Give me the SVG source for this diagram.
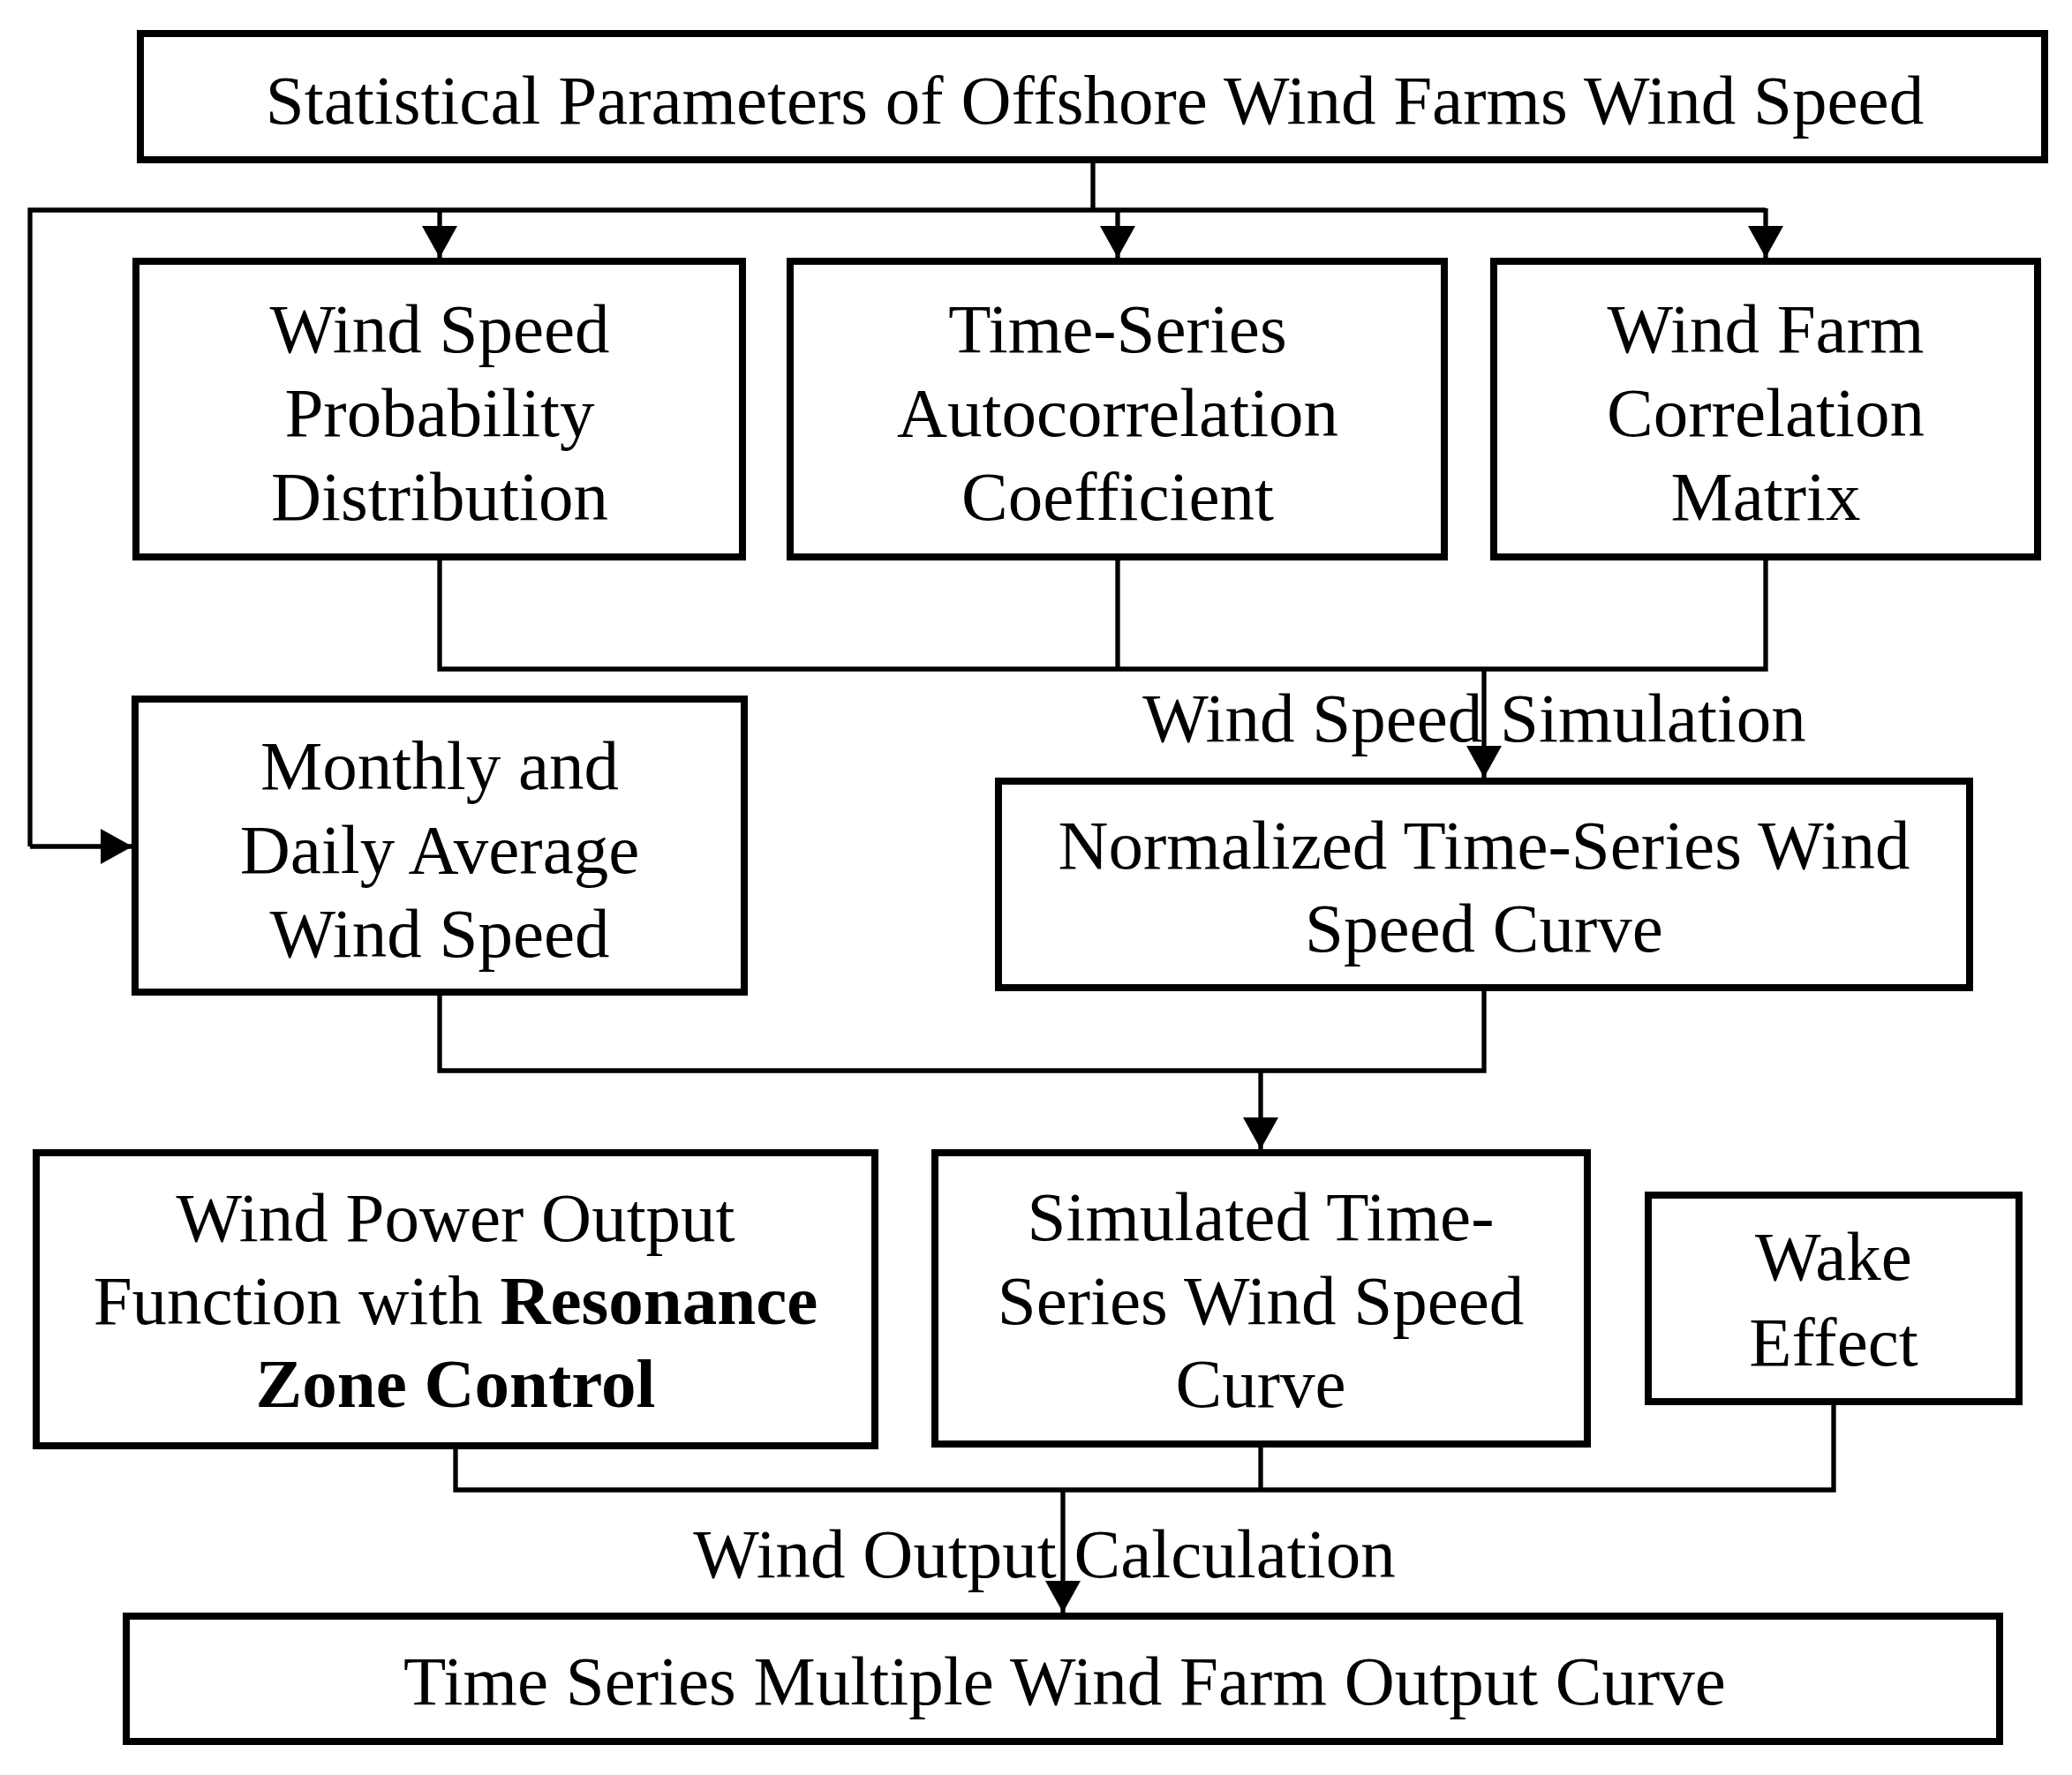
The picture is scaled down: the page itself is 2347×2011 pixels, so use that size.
<svg xmlns="http://www.w3.org/2000/svg" width="2347" height="2011" viewBox="0 0 2347 2011">
<defs>
<style>
.box{fill:#fff;stroke:#000;stroke-width:8}
.t{font-family:"Liberation Serif","Times New Roman",serif;font-size:79px;fill:#000;text-anchor:middle}
.b{font-weight:bold}
.c{fill:none;stroke:#000;stroke-width:5.3}
</style>
<marker id="ah" markerUnits="userSpaceOnUse" markerWidth="40" markerHeight="40" viewBox="0 0 36 40" refX="36" refY="20" orient="auto">
<path d="M0,0 L36,20 L0,40 Z" fill="#000"/>
</marker>
</defs>
<rect width="2347" height="2011" fill="#fff"/>
<g id="connectors">
<polyline class="c" points="1238,181 1238,238"/>
<polyline class="c" points="34,959 34,238 2000,238"/>
<line class="c" x1="498" y1="238" x2="498" y2="292" marker-end="url(#ah)"/>
<line class="c" x1="1266" y1="238" x2="1266" y2="292" marker-end="url(#ah)"/>
<line class="c" x1="2000" y1="236" x2="2000" y2="292" marker-end="url(#ah)"/>
<line class="c" x1="34" y1="959" x2="150" y2="959" marker-end="url(#ah)"/>
<polyline class="c" points="498,631 498,758 2000,758 2000,631"/>
<line class="c" x1="1266" y1="631" x2="1266" y2="758"/>
<line class="c" x1="1681" y1="758" x2="1681" y2="881" marker-end="url(#ah)"/>
<polyline class="c" points="498,1124 498,1213 1681,1213 1681,1119"/>
<line class="c" x1="1428" y1="1213" x2="1428" y2="1302" marker-end="url(#ah)"/>
<polyline class="c" points="516,1638 516,1688 2077,1688 2077,1588"/>
<line class="c" x1="1428" y1="1636" x2="1428" y2="1688"/>
<line class="c" x1="1204" y1="1688" x2="1204" y2="1827" marker-end="url(#ah)"/>
<text class="t" x="1670" y="840">Wind Speed Simulation</text>
<text class="t" x="1183" y="1787">Wind Output Calculation</text>
</g>
<g id="top">
<rect class="box" x="159" y="38" width="2157" height="143"/>
<text class="t" x="1240" y="140">Statistical Parameters of Offshore Wind Farms Wind Speed</text>
</g>
<g id="prob">
<rect class="box" x="154" y="296" width="687" height="335"/>
<text class="t" x="498" y="399">Wind Speed</text>
<text class="t" x="498" y="494">Probability</text>
<text class="t" x="498" y="589">Distribution</text>
</g>
<g id="autocorr">
<rect class="box" x="895" y="296" width="741" height="335"/>
<text class="t" x="1266" y="399">Time-Series</text>
<text class="t" x="1266" y="494">Autocorrelation</text>
<text class="t" x="1266" y="589">Coefficient</text>
</g>
<g id="corrmatrix">
<rect class="box" x="1692" y="296" width="616" height="335"/>
<text class="t" x="2000" y="399">Wind Farm</text>
<text class="t" x="2000" y="494">Correlation</text>
<text class="t" x="2000" y="589">Matrix</text>
</g>
<g id="monthly">
<rect class="box" x="153" y="792" width="690" height="332"/>
<text class="t" x="498" y="894">Monthly and</text>
<text class="t" x="498" y="989">Daily Average</text>
<text class="t" x="498" y="1084">Wind Speed</text>
</g>
<g id="normalized">
<rect class="box" x="1131" y="885" width="1100" height="234"/>
<text class="t" x="1681" y="984">Normalized Time-Series Wind</text>
<text class="t" x="1681" y="1078">Speed Curve</text>
</g>
<g id="windpower">
<rect class="box" x="41" y="1306" width="950" height="332"/>
<text class="t" x="516" y="1406">Wind Power Output</text>
<text class="t" x="516" y="1500">Function with <tspan class="b">Resonance</tspan></text>
<text class="t b" x="516" y="1594">Zone Control</text>
</g>
<g id="simulated">
<rect class="box" x="1059" y="1306" width="739" height="330"/>
<text class="t" x="1428" y="1405">Simulated Time-</text>
<text class="t" x="1428" y="1500">Series Wind Speed</text>
<text class="t" x="1428" y="1594">Curve</text>
</g>
<g id="wake">
<rect class="box" x="1867" y="1354" width="420" height="234"/>
<text class="t" x="2077" y="1450">Wake</text>
<text class="t" x="2077" y="1547">Effect</text>
</g>
<g id="output">
<rect class="box" x="143" y="1831" width="2122" height="142"/>
<text class="t" x="1206" y="1931">Time Series Multiple Wind Farm Output Curve</text>
</g>
</svg>
